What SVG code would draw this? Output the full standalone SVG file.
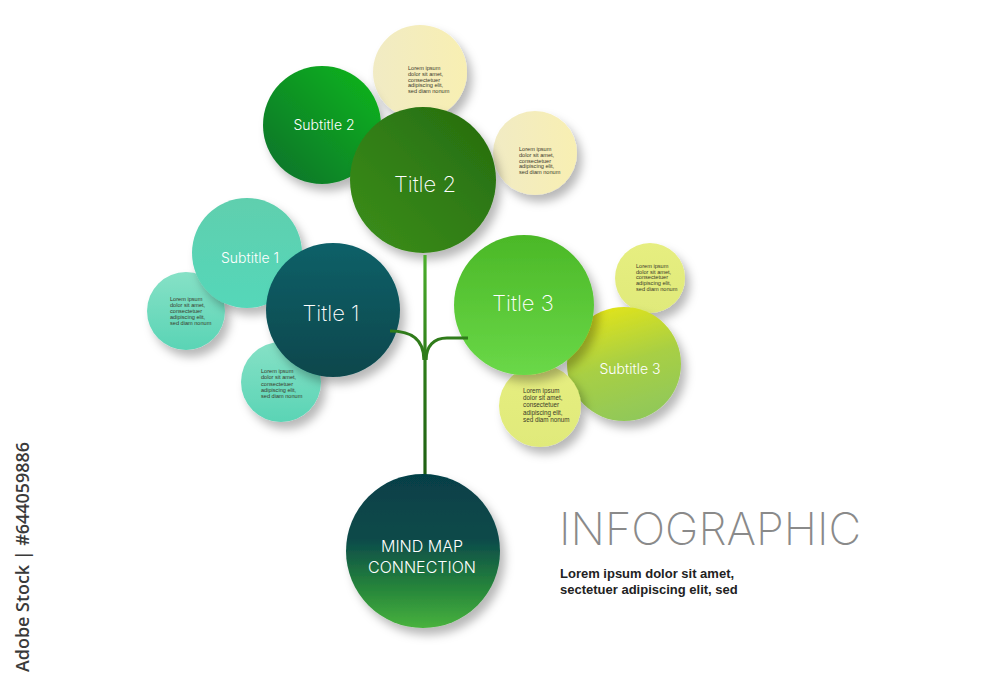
<svg xmlns="http://www.w3.org/2000/svg" width="1000" height="686" viewBox="0 0 1000 686">
<defs>
<filter id="sh" x="-30%" y="-30%" width="170%" height="170%">
<feDropShadow dx="5" dy="7" stdDeviation="5" flood-color="#000" flood-opacity="0.28"/>
</filter>
<linearGradient id="gSub2" x1="0" y1="1" x2="1" y2="0"><stop offset="0" stop-color="#0b6f2c"/><stop offset="1" stop-color="#12b81c"/></linearGradient>
<linearGradient id="gT2" x1="0" y1="1" x2="1" y2="0"><stop offset="0" stop-color="#3c8f1c"/><stop offset="1" stop-color="#256c0e"/></linearGradient>
<linearGradient id="gCream" x1="0" y1="0" x2="1" y2="0"><stop offset="0" stop-color="#f1ebc4"/><stop offset="1" stop-color="#f8efb2"/></linearGradient>
<linearGradient id="gSub1" x1="0" y1="0" x2="0" y2="1"><stop offset="0" stop-color="#5fcfae"/><stop offset="1" stop-color="#55d7b9"/></linearGradient>
<linearGradient id="gT1" x1="0" y1="0" x2="0" y2="1"><stop offset="0" stop-color="#0c6068"/><stop offset="1" stop-color="#08474c"/></linearGradient>
<linearGradient id="gTeal" x1="0" y1="0" x2="0" y2="1"><stop offset="0" stop-color="#86e1c6"/><stop offset="1" stop-color="#5ad4b5"/></linearGradient>
<linearGradient id="gT3" x1="0" y1="0" x2="0" y2="1"><stop offset="0" stop-color="#4bb827"/><stop offset="1" stop-color="#6ad848"/></linearGradient>
<linearGradient id="gSub3" x1="0.3" y1="0" x2="0.6" y2="1"><stop offset="0" stop-color="#e2e41a"/><stop offset="0.5" stop-color="#a8cf44"/><stop offset="1" stop-color="#90c85a"/></linearGradient>
<linearGradient id="gYel" x1="0" y1="0" x2="0" y2="1"><stop offset="0" stop-color="#e6ee80"/><stop offset="1" stop-color="#e0ea7a"/></linearGradient>
<linearGradient id="gRoot" x1="0" y1="0" x2="0" y2="1"><stop offset="0" stop-color="#063f47"/><stop offset="0.42" stop-color="#0b4a4a"/><stop offset="0.75" stop-color="#27873a"/><stop offset="1" stop-color="#48b23e"/></linearGradient>
<linearGradient id="gStem" x1="0" y1="255" x2="0" y2="478" gradientUnits="userSpaceOnUse"><stop offset="0" stop-color="#4cb02c"/><stop offset="0.45" stop-color="#2f7f1a"/><stop offset="1" stop-color="#1e5e12"/></linearGradient>
</defs>
<style>
.c{filter:url(#sh)}
.tt{font-family:Inter,"Open Sans","Liberation Sans",sans-serif;font-weight:300;fill:#fff;text-anchor:middle}
.t{font-size:22px;font-weight:250}
.s{font-size:14px}
.lo{font-family:"Liberation Sans",Arial,sans-serif;font-size:5.6px;fill:#3a3a2a}
.br{fill:none;stroke:#2f7b1a;stroke-width:3.2;stroke-linecap:butt}
</style>
<rect width="1000" height="686" fill="#fff"/>

<g id="lorem-left">
<circle class="c" cx="186" cy="311" r="39" fill="url(#gTeal)"/>
<text class="lo"><tspan x="170" y="301">Lorem ipsum</tspan><tspan x="170" y="307">dolor sit amet,</tspan><tspan x="170" y="313">consectetuer</tspan><tspan x="170" y="319">adipiscing elit,</tspan><tspan x="170" y="325">sed diam nonum</tspan></text>
</g>
<g id="subtitle-1">
<circle class="c" cx="247" cy="253" r="55" fill="url(#gSub1)"/>
<text class="tt s" x="250" y="263">Subtitle 1</text>
</g>
<g id="lorem-bottom-left">
<circle class="c" cx="281" cy="382" r="40" fill="url(#gTeal)"/>
<text class="lo"><tspan x="261" y="373">Lorem ipsum</tspan><tspan x="261" y="379.3">dolor sit amet,</tspan><tspan x="261" y="385.6">consectetuer</tspan><tspan x="261" y="391.9">adipiscing elit,</tspan><tspan x="261" y="398.2">sed diam nonum</tspan></text>
</g>
<g id="title-1">
<circle class="c" cx="333" cy="310" r="67" fill="url(#gT1)"/>
<text class="tt t" x="331" y="321">Title 1</text>
</g>

<g id="lorem-top">
<circle class="c" cx="420" cy="72" r="47" fill="url(#gCream)"/>
<text class="lo"><tspan x="408" y="70">Lorem ipsum</tspan><tspan x="408" y="75.8">dolor sit amet,</tspan><tspan x="408" y="81.6">consectetuer</tspan><tspan x="408" y="87.4">adipiscing elit,</tspan><tspan x="408" y="93.2">sed diam nonum</tspan></text>
</g>
<g id="subtitle-2">
<circle class="c" cx="322" cy="125" r="59" fill="url(#gSub2)"/>
<text class="tt s" x="324" y="130">Subtitle 2</text>
</g>
<g id="lorem-right-top">
<circle class="c" cx="535" cy="153" r="42" fill="url(#gCream)"/>
<text class="lo"><tspan x="519" y="151">Lorem ipsum</tspan><tspan x="519" y="156.8">dolor sit amet,</tspan><tspan x="519" y="162.6">consectetuer</tspan><tspan x="519" y="168.4">adipiscing elit,</tspan><tspan x="519" y="174.2">sed diam nonum</tspan></text>
</g>
<g id="title-2">
<circle class="c" cx="423" cy="180" r="73" fill="url(#gT2)"/>
<text class="tt t" x="425" y="192">Title 2</text>
</g>

<g id="lorem-small-right">
<circle class="c" cx="650" cy="278" r="35" fill="url(#gYel)"/>
<text class="lo"><tspan x="636" y="268">Lorem ipsum</tspan><tspan x="636" y="273.7">dolor sit amet,</tspan><tspan x="636" y="279.4">consectetuer</tspan><tspan x="636" y="285.1">adipiscing elit,</tspan><tspan x="636" y="290.8">sed diam nonum</tspan></text>
</g>
<g id="subtitle-3">
<circle class="c" cx="624" cy="364" r="57" fill="url(#gSub3)"/>
<text class="tt s" x="630" y="374">Subtitle 3</text>
</g>
<g id="lorem-bottom-right">
<circle class="c" cx="540" cy="406" r="41" fill="url(#gYel)"/>
<text class="lo" style="font-size:6.3px"><tspan x="523" y="393">Lorem ipsum</tspan><tspan x="523" y="400.2">dolor sit amet,</tspan><tspan x="523" y="407.4">consectetuer</tspan><tspan x="523" y="414.6">adipiscing elit,</tspan><tspan x="523" y="421.8">sed diam nonum</tspan></text>
</g>
<g id="title-3">
<circle class="c" cx="524" cy="305" r="70" fill="url(#gT3)"/>
<text class="tt t" x="523" y="311">Title 3</text>
</g>

<g id="connectors">
<path d="M425,255 V478" fill="none" stroke="url(#gStem)" stroke-width="3.2"/>
<path class="br" d="M390,331 C410,331 424,338 424,360"/>
<path class="br" d="M468,338 L447,338 C434,338 426,346 426,360"/>
</g>

<g id="root">
<circle class="c" cx="423" cy="551" r="77" fill="url(#gRoot)"/>
<text class="tt" style="font-size:16px" x="422" y="552">MIND MAP</text>
<text class="tt" style="font-size:16px" x="422" y="573">CONNECTION</text>
</g>

<g id="heading">
<text x="559" y="545" font-family="Inter,'Open Sans','Liberation Sans',sans-serif" font-weight="200" font-size="45" fill="#8a8a8a" textLength="302" lengthAdjust="spacingAndGlyphs">INFOGRAPHIC</text>
<text font-family="'Liberation Sans',Arial,sans-serif" font-size="13" font-weight="bold" fill="#222"><tspan x="560" y="578">Lorem ipsum dolor sit amet,</tspan><tspan x="560" y="594">sectetuer adipiscing elit, sed</tspan></text>
</g>

<text transform="translate(29,672) rotate(-90)" font-family="'Open Sans','Liberation Sans',sans-serif" font-size="18" font-weight="600" fill="#3a3a3a" textLength="230" lengthAdjust="spacingAndGlyphs">Adobe Stock | #644059886</text>
</svg>
